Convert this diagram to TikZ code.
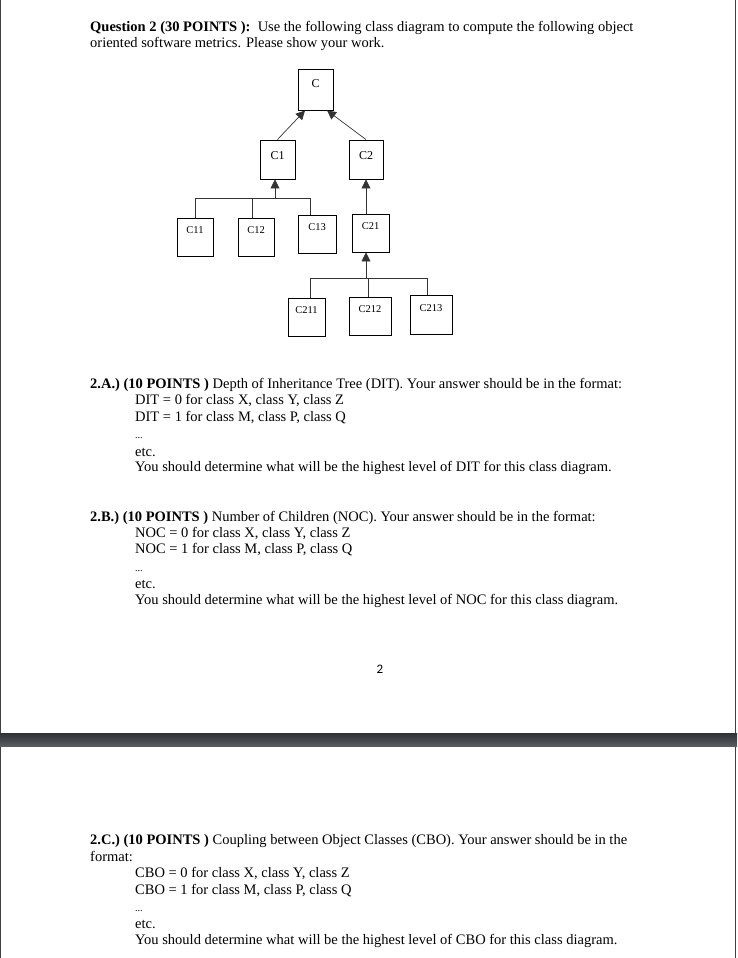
\documentclass[tikz,border=0pt]{standalone}
\usepackage{fontspec}
\setmainfont{Liberation Serif}
\newfontfamily\pgfont{Carlito}
\usetikzlibrary{arrows.meta}

\definecolor{bardark}{RGB}{48,50,53}
\definecolor{barlight}{RGB}{88,92,96}

\tikzset{
	cls/.style={draw, line width=0.9pt, inner sep=0pt, minimum width=36pt,
		text height=15.5pt, text depth=23pt, font=\fontsize{10.5}{12}\selectfont},
	bigcls/.style={cls, font=\fontsize{12}{14}\selectfont},
	inh/.style={-{Triangle[length=9pt,width=9pt]}, line width=0.7pt, black!80},
	wire/.style={line width=0.7pt, black!80},
	txt/.style={anchor=base west, inner sep=0pt, font=\fontsize{14.5}{16}\selectfont},
	ind/.style={txt, xshift=45pt}
}

\begin{document}
\begin{tikzpicture}[x=1pt,y=-1pt]
	\useasboundingbox (0,0) rectangle (737,958);
	% page edges and the gap between the two pages
	\draw[line width=1.2pt, black!75] (0.6,0) -- (0.6,733);
	\draw[line width=1.2pt, black!75] (735.4,0) -- (735.4,733);
	\draw[line width=1.2pt, black!75] (0.6,746) -- (0.6,958);
	\draw[line width=1.2pt, black!75] (735.4,746) -- (735.4,958);
	\shade[top color=bardark, bottom color=barlight] (0,733) rectangle (737,746);

	% question text
	\node[txt] (qhead) at (90,32) {\textbf{Question 2 (30 POINTS ):}\ \ Use the following class diagram to compute the following object};
	\node[txt] (qhead2) at (90,48) {oriented software metrics. Please show your work.};

	% class boxes
	\node[bigcls, minimum width=35pt, text height=18pt, text depth=23pt] (c) at (315.5,89.5) {C};
	\node[bigcls, minimum width=35pt, text height=19pt, text depth=20pt] (c1) at (277.5,159.5) {C1};
	\node[bigcls, minimum width=34pt, text height=19pt, text depth=20pt] (c2) at (366,159.5) {C2};
	\node[cls, text depth=22.5pt] (c11) at (195,237) {C11};
	\node[cls, text depth=22.5pt] (c12) at (256,237) {C12};
	\node[cls, minimum width=38pt, text depth=22.5pt] (c13) at (317,234) {C13};
	\node[cls, minimum width=37pt, text depth=22.5pt] (c21) at (370.5,233) {C21};
	\node[cls, minimum width=37pt] (c211) at (306.5,317.5) {C211};
	\node[cls, minimum width=42pt] (c212) at (370,316.5) {C212};
	\node[cls, minimum width=42pt] (c213) at (431,315) {C213};

	% inheritance
	\draw[inh] (c1.north) -- ([xshift=-10.5pt]c.south);
	\draw[inh] (c2.north) -- ([xshift=11.5pt]c.south);

	\coordinate (j1) at (275,198);
	\draw[inh] (j1) -- (j1 |- c1.south);
	\draw[wire] (196,198) -- (310,198);
	\draw[wire] (c11.north) -- (c11.north |- j1);
	\draw[wire] ([xshift=-4pt]c12.north) -- ([xshift=-4pt]c12.north |- j1);
	\draw[wire] ([xshift=-7pt]c13.north) -- ([xshift=-7pt]c13.north |- j1);

	\draw[inh] (c2.south |- c21.north) -- (c2.south);

	\coordinate (j2) at (366,278);
	\draw[inh] (j2) -- (j2 |- c21.south);
	\draw[wire] (310,278) -- (427,278);
	\draw[wire] ([xshift=3.5pt]c211.north) -- ([xshift=3.5pt]c211.north |- j2);
	\draw[wire] ([xshift=-2pt]c212.north) -- ([xshift=-2pt]c212.north |- j2);
	\draw[wire] ([xshift=-4pt]c213.north) -- ([xshift=-4pt]c213.north |- j2);

	% 2.A
	\node[txt] (dita) at (90,388) {\textbf{2.A.) (10 POINTS )} Depth of Inheritance Tree (DIT). Your answer should be in the format:};
	\node[ind] (dit0) at (90,404) {DIT = 0 for class X, class Y, class Z};
	\node[ind] (dit1) at (90,421) {DIT = 1 for class M, class P, class Q};
	\node[ind, font=\fontsize{10}{10}\selectfont] (ditdots) at (90,438) {...};
	\node[ind] (ditetc) at (90,456) {etc.};
	\node[ind] (ditlast) at (90,471) {You should determine what will be the highest level of DIT for this class diagram.};

	% 2.B
	\node[txt] (nocb) at (90,521) {\textbf{2.B.) (10 POINTS )} Number of Children (NOC). Your answer should be in the format:};
	\node[ind] (noc0) at (90,537) {NOC = 0 for class X, class Y, class Z};
	\node[ind] (noc1) at (90,553) {NOC = 1 for class M, class P, class Q};
	\node[ind, font=\fontsize{10}{10}\selectfont] (nocdots) at (90,571) {...};
	\node[ind] (nocetc) at (90,588) {etc.};
	\node[ind] (noclast) at (90,604) {You should determine what will be the highest level of NOC for this class diagram.};

	\node[anchor=base, inner sep=0pt, font=\pgfont\fontsize{13}{14}\selectfont] (pgno) at (380,673) {2};

	% 2.C
	\node[txt] (cboc) at (90,844) {\textbf{2.C.) (10 POINTS )} Coupling between Object Classes (CBO). Your answer should be in the};
	\node[txt] (cboc2) at (90,861) {format:};
	\node[ind] (cbo0) at (90,877) {CBO = 0 for class X, class Y, class Z};
	\node[ind] (cbo1) at (90,894) {CBO = 1 for class M, class P, class Q};
	\node[ind, font=\fontsize{10}{10}\selectfont] (cbodots) at (90,911) {...};
	\node[ind] (cboetc) at (90,928) {etc.};
	\node[ind] (cbolast) at (90,944) {You should determine what will be the highest level of CBO for this class diagram.};
\end{tikzpicture}
\end{document}
